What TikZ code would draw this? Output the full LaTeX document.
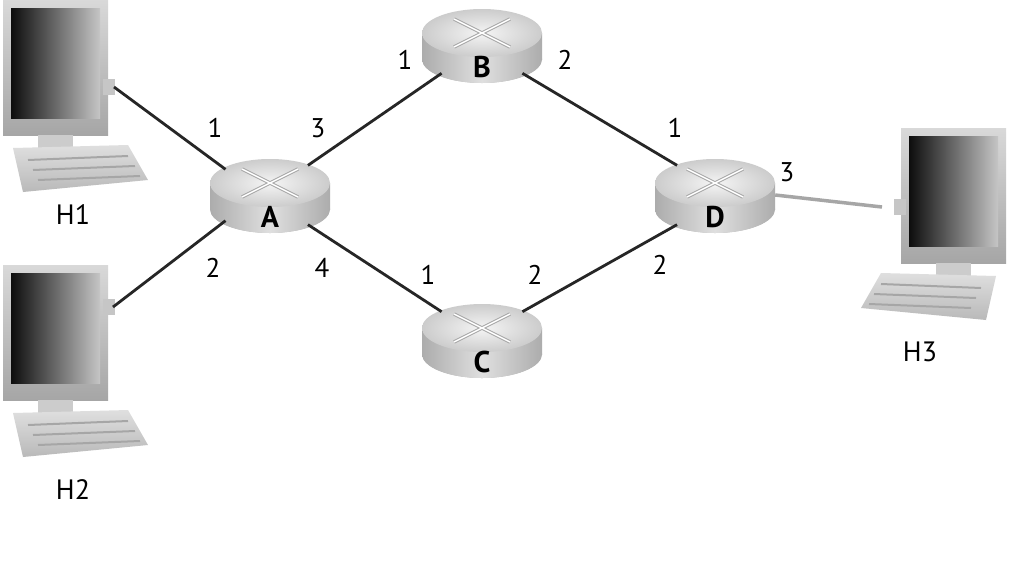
\documentclass[tikz,border=0pt]{standalone}
\usepackage{fontspec}
\setmainfont{PT Sans}
\usetikzlibrary{shapes.geometric}
\tikzset{
  lnk/.style={line width=2.8pt, black!85},
  port/.style={font=\fontsize{27}{27}\selectfont},
  rbox/.style={shape=ellipse, minimum width=120pt, minimum height=76pt, inner sep=0pt},
  router/.pic={
    \fill[gray!55] (0,14) ellipse[x radius=60, y radius=24];
    \shade[left color=gray!65, right color=gray!65, middle color=gray!25] (-60,-12) rectangle (60,14);
    \shade[left color=gray!65, right color=gray!65, middle color=gray!25] (-60,14) arc[start angle=180,end angle=0,x radius=60,y radius=24] -- cycle;
    \shade[inner color=gray!8, outer color=gray!40] (0,-12) ellipse[x radius=60, y radius=24];
    \draw[gray!70, line width=3.5pt] (-28,-26) -- (28,2) (-28,2) -- (28,-26);
    \draw[white, line width=1.5pt] (-28,-26) -- (28,2) (-28,2) -- (28,-26);
  },
  computer/.pic={
    \shade[top color=gray!30,bottom color=gray!70] (0,0) rectangle (105,135);
    \shade[left color=black!95, right color=gray!45] (8,8) rectangle (97,118);
    \fill[gray!45] (100,#1-8) rectangle (112,#1+8);
    \fill[gray!40] (35,135) rectangle (70,148);
    \shade[top color=gray!25,bottom color=gray!55] (10,148) -- (125,145) -- (145,180) -- (20,192) -- cycle;
    \draw[gray!70,line width=2pt] (25,160) -- (125,156) (30,170) -- (132,166) (35,180) -- (137,176);
  },
}
\begin{document}
\begin{tikzpicture}[x=1pt,y=-1pt]
\useasboundingbox (0,0) rectangle (1024,576);
\fill[white] (0,0) rectangle (1024,576);
% hosts
\pic at (3,0) {computer=87};
\pic at (3,265) {computer=42};
\pic[xscale=-1] at (1006,128) {computer=79};
\node[font=\fontsize{28}{28}\selectfont] (H1) at (73,215) {H1};
\node[font=\fontsize{28}{28}\selectfont] (H2) at (73,490) {H2};
\node[font=\fontsize{28}{28}\selectfont] (H3) at (920,352) {H3};
\coordinate (h1p) at (114,87);
\coordinate (h2p) at (113,307);
\coordinate (h3p) at (882,207);
% routers
\foreach \n/\x/\y in {A/270/195, B/482/45, C/482/340, D/715/195}{
  \pic at (\x,\y) {router};
  \node[rbox] (\n) at (\x,\y) {};
  \node[font=\bfseries\fontsize{30}{30}\selectfont] at (\x,\y+22) {\n};
}
% links
\draw[lnk] (h1p) -- (A.150);
\draw[lnk] (h2p) -- (A.210);
\draw[lnk] (A.38) -- (B.215);
\draw[lnk] (B.325) -- (D.142);
\draw[lnk] (A.322) -- (C.145);
\draw[lnk] (C.35) -- (D.218);
\draw[line width=3.5pt, gray!70] (D.0) -- (h3p);
% ports
\node[port] at (215,128) {1};
\node[port] at (318,128) {3};
\node[port] at (213,268) {2};
\node[port] at (322,268) {4};
\node[port] at (405,60) {1};
\node[port] at (565,60) {2};
\node[port] at (675,128) {1};
\node[port] at (787,172) {3};
\node[port] at (660,265) {2};
\node[port] at (428,275) {1};
\node[port] at (535,275) {2};
\end{tikzpicture}
\end{document}
